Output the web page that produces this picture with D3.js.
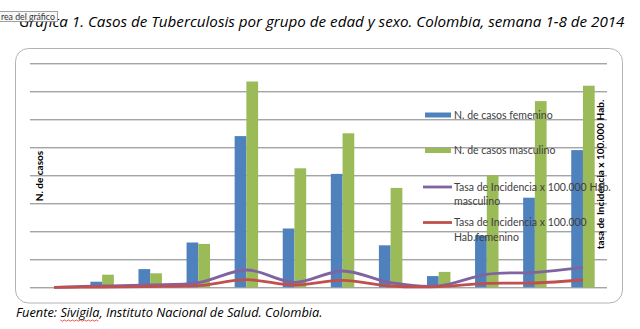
<!DOCTYPE html>
<html>
<head>
<meta charset="utf-8">
<script src="https://cdn.jsdelivr.net/npm/d3@7"></script>
<style>
  html, body { margin: 0; padding: 0; background: #fff; }
  svg { display: block; }
</style>
</head>
<body>
<svg id="chart" width="640" height="329"></svg>
<script>
// ---- data ----
const categories = ["< 1", "1-4", "5-9", "10-14", "15-24", "25-34", "35-44", "45-54", "55-64", "65-74", "75-84", "85 y más"];
const casosFemenino = [0, 4, 13, 32, 108, 42, 81, 30, 8, 37, 64, 98];
const casosMasculino = [0, 9, 10, 31, 147, 85, 110, 71, 11, 80, 133, 144];
const tasaMasculino = [0, 0.23, 0.41, 0.82, 3.09, 0.89, 2.91, 0.82, 0.23, 2.32, 2.68, 3.57];
const tasaFemenino = [0, 0.05, 0.14, 0.29, 1.36, 0.41, 1.25, 0.23, 0.11, 0.71, 0.77, 1.30];
const leftTicks = [0, 20, 40, 60, 80, 100, 120, 140, 160];
const rightTicks = [0, 5, 10, 15, 20, 25, 30, 35, 40];
const legendLabels = [
  ["N. de casos femenino"],
  ["N. de casos masculino"],
  ["Tasa de Incidencia x 100.000 Hab.", "masculino"],
  ["Tasa de Incidencia x 100.000", "Hab.femenino"]
];
const titleText = "Gráfica 1. Casos de Tuberculosis por grupo de edad y sexo. Colombia, semana 1-8 de 2014";
const sourceText = ["Fuente: ", "Sivigila", ", Instituto Nacional de Salud. Colombia."];
const tooltipText = "rea del gráfico";

// ---- layout ----
const svg = d3.select("#chart");
const font = "Lato, 'Open Sans', sans-serif";
const font2 = "'Open Sans', Lato, sans-serif";
const plot = { left: 30, right: 607, top: 63.3, bottom: 287.3 };
const colors = { fem: "#4F81BD", mas: "#9BBB59", tMas: "#8064A2", tFem: "#C0504D" };

// fit a text element's font size so it spans a target width
function fitWidth(sel, target, base) {
  const w = sel.node().getComputedTextLength();
  sel.attr("font-size", base * target / w);
}

// frame
svg.append("rect")
  .attr("x", 15.5).attr("y", 48.5).attr("width", 607).attr("height", 254.5)
  .attr("rx", 13).attr("ry", 13)
  .attr("fill", "#fff").attr("stroke", "#b3b3b3").attr("stroke-width", 1);

// scales
const x0 = d3.scaleBand().domain(categories).range([plot.left, plot.right]).paddingInner(0).paddingOuter(0);
const x1 = d3.scaleBand().domain(["fem", "mas"]).range([0, x0.bandwidth()]).paddingOuter(1.05).paddingInner(0);
const yL = d3.scaleLinear().domain([0, 160]).range([plot.bottom, plot.top]);
const yR = d3.scaleLinear().domain([0, 40]).range([plot.bottom, plot.top]);

// gridlines
const grid = svg.append("g").attr("transform", `translate(${plot.left},0)`)
  .call(d3.axisLeft(yL).tickValues(leftTicks).tickSize(-(plot.right - plot.left)).tickFormat(""));
grid.select(".domain").remove();
grid.selectAll(".tick line").attr("stroke", "#7f7f7f").attr("stroke-width", 1);
// right axis (no labels shown)
const ra = svg.append("g").attr("transform", `translate(${plot.right},0)`)
  .call(d3.axisRight(yR).tickValues(rightTicks).tickSize(0).tickFormat(""));
ra.select(".domain").remove();

// bars
const groups = svg.append("g").selectAll("g").data(categories).join("g")
  .attr("transform", d => `translate(${x0(d)},0)`);
groups.append("rect")
  .attr("x", x1("fem")).attr("width", x1.bandwidth())
  .attr("y", (d, i) => yL(casosFemenino[i]))
  .attr("height", (d, i) => yL(0) - yL(casosFemenino[i]))
  .attr("fill", colors.fem);
groups.append("rect")
  .attr("x", x1("mas")).attr("width", x1.bandwidth())
  .attr("y", (d, i) => yL(casosMasculino[i]))
  .attr("height", (d, i) => yL(0) - yL(casosMasculino[i]))
  .attr("fill", colors.mas);

// lines
const line = d3.line()
  .x((d, i) => x0(categories[i]) + x0.bandwidth() / 2)
  .y(d => yR(d))
  .curve(d3.curveCardinal.tension(0));
svg.append("path").datum(tasaMasculino).attr("d", line)
  .attr("fill", "none").attr("stroke", colors.tMas).attr("stroke-width", 2.8).attr("stroke-linejoin", "round");
svg.append("path").datum(tasaFemenino).attr("d", line)
  .attr("fill", "none").attr("stroke", colors.tFem).attr("stroke-width", 2.8).attr("stroke-linejoin", "round");

// axis titles
svg.append("text")
  .attr("transform", "translate(43,176) rotate(-90)")
  .attr("text-anchor", "middle")
  .attr("font-family", font).attr("font-size", 10).attr("font-weight", "bold").attr("fill", "#000")
  .text("N. de casos");
svg.append("text")
  .attr("transform", "translate(603.5,174.5) rotate(-90)")
  .attr("text-anchor", "middle")
  .attr("font-family", font).attr("font-size", 10).attr("font-weight", "bold").attr("fill", "#000")
  .text("tasa de Incidencia x 100.000 Hab.");

// legend
const legY = [115, 150.5, 187, 222.5];
const leg = svg.append("g");
legendLabels.forEach((lines, i) => {
  if (i < 2) {
    leg.append("rect").attr("x", 425).attr("y", legY[i] - 2.5).attr("width", 26).attr("height", 5)
      .attr("fill", i === 0 ? colors.fem : colors.mas);
  } else {
    leg.append("line").attr("x1", 423).attr("x2", 452).attr("y1", legY[i]).attr("y2", legY[i])
      .attr("stroke", i === 2 ? colors.tMas : colors.tFem).attr("stroke-width", 2.8);
  }
  const t = leg.append("text").attr("x", 454).attr("y", legY[i] + 3.5)
    .attr("font-family", font).attr("font-size", 10.5).attr("fill", "#404040");
  lines.forEach((s, j) => {
    t.append("tspan").attr("x", 454).attr("dy", j === 0 ? 0 : 14.5).text(s);
  });
});

// title
const title = svg.append("text").attr("x", 19).attr("y", 26.5)
  .attr("font-family", font2).attr("font-size", 13).attr("font-style", "italic").attr("fill", "#000")
  .text(titleText);
fitWidth(title, 606, 13);

// source
const src = svg.append("text").attr("x", 16).attr("y", 317)
  .attr("font-family", font2).attr("font-size", 12).attr("font-style", "italic").attr("fill", "#000");
sourceText.forEach(s => src.append("tspan").text(s));
fitWidth(src, 307, 12);
// spell-check squiggle under "Sivigila"
const spans = src.selectAll("tspan").nodes();
const sx = 16 + spans[0].getComputedTextLength();
const sw = spans[1].getComputedTextLength();
const pts = d3.range(0, Math.floor(sw / 2) + 1).map(k => [sx + k * 2, 320 + (k % 2 ? 1.2 : 0)]);
svg.append("path").attr("d", d3.line()(pts)).attr("fill", "none").attr("stroke", "#e03030").attr("stroke-width", 0.8);

// tooltip box seen at the top-left of the screenshot
const tip = svg.append("g");
tip.append("rect").attr("x", -2).attr("y", 11.5).attr("width", 59.5).attr("height", 10)
  .attr("fill", "#f7f7f7").attr("stroke", "#8a8a8a").attr("stroke-width", 0.8);
const tipText = tip.append("text").attr("x", 1).attr("y", 19.6)
  .attr("font-family", font).attr("font-size", 9).attr("fill", "#333")
  .text(tooltipText);
fitWidth(tipText, 54, 9);
</script>
</body>
</html>
